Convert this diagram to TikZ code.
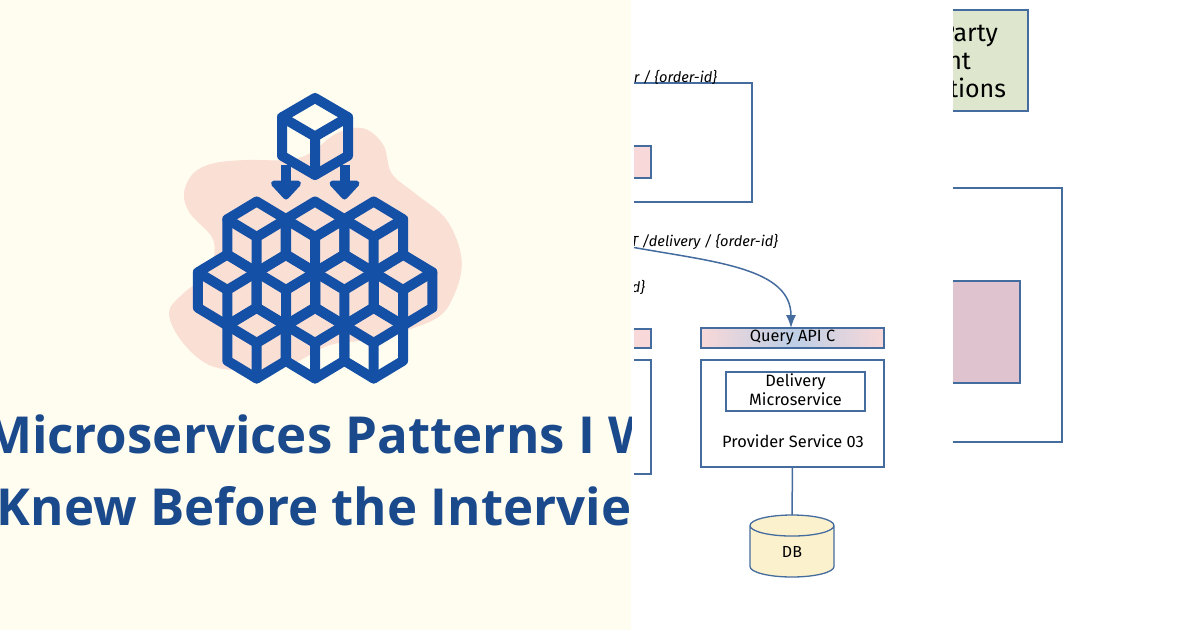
\documentclass[tikz,border=0pt]{standalone}
\usepackage{fontspec}
\setmainfont{Fira Sans}
\newfontfamily\titlefont[Scale=1]{Open Sans}
\usetikzlibrary{arrows.meta,shapes.geometric}
\definecolor{cream}{HTML}{FFFDF0}
\definecolor{blobc}{HTML}{FADFD5}
\definecolor{iconblue}{HTML}{1450A6}
\definecolor{titleblue}{HTML}{1B4A8C}
\definecolor{linec}{HTML}{456C9F}
\definecolor{pinkc}{HTML}{F8D8D8}
\definecolor{midc}{HTML}{BECFE6}
\definecolor{greenc}{HTML}{DEE7CE}
\definecolor{rosec}{HTML}{DFC3CF}
\definecolor{dbc}{HTML}{FBF1CD}
\tikzset{
  cubeline/.style={draw=iconblue,line width=10pt,line join=round,line cap=round},
  titletext/.style={anchor=base west,inner sep=0,outer sep=0,text=titleblue,font=\titlefont\fontsize{51}{60}\selectfont\bfseries},
  boxline/.style={draw=linec,line width=1.3pt,inner sep=0,outer sep=0,align=center,font=\fontsize{16.3}{19}\selectfont},
  plaintext/.style={inner sep=0,outer sep=0,align=center,font=\fontsize{16.4}{19.3}\selectfont},
  pathtext/.style={inner sep=0,outer sep=0,anchor=base east,font=\fontsize{14.6}{17}\selectfont\itshape},
  connector/.style={draw=linec,line width=1.5pt},
  bigtext/.style={inner sep=0,outer sep=0,anchor=base east,font=\fontsize{25}{28}\selectfont},
}
\newcommand{\icube}[4]{% cx cy halfwidth radius
  \draw[cubeline] (#1,#2-#4) -- (#1+#3,#2-#4/2) -- (#1+#3,#2+#4/2) -- (#1,#2+#4) -- (#1-#3,#2+#4/2) -- (#1-#3,#2-#4/2) -- cycle;
  \draw[cubeline] (#1-#3,#2-#4/2) -- (#1,#2) -- (#1+#3,#2-#4/2) (#1,#2) -- (#1,#2+#4);
}
\begin{document}
\begin{tikzpicture}[x=1pt,y=-1pt]
\useasboundingbox (0,0) rectangle (1200,630);
\fill[white] (0,0) rectangle (1200,630);
\fill[cream] (0,0) rectangle (631,630);
% blob
\begin{scope}[xshift=170pt,yshift=-80pt,x=.33333pt,y=-.33333pt]
\fill[blobc] plot[smooth cycle,tension=.6] coordinates {
 (580,145) (640,195) (665,280) (735,340) (830,420) (875,540) (850,650) (790,720)
 (620,775) (480,795) (370,850) (270,870) (130,860) (40,790) (-3,700) (40,640)
 (105,590) (132,530) (125,470) (60,400) (42,340) (70,280) (130,250) (230,240)
 (350,240) (420,220) (500,160)};
\end{scope}
% icon
\icube{256.7}{237}{29.4}{35.5}
\icube{315}{237}{29.4}{35.5}
\icube{373.7}{237}{29.4}{35.5}
\icube{227.3}{290}{29.4}{35.5}
\icube{286}{290}{29.4}{35.5}
\icube{344.4}{290}{29.4}{35.5}
\icube{403}{290}{29.4}{35.5}
\icube{256.7}{343}{29.4}{35.5}
\icube{315}{343}{29.4}{35.5}
\icube{373.7}{343}{29.4}{35.5}
\icube{315}{136.5}{33}{38.5}
\foreach \ax in {286,344.5}{
  \draw[iconblue,line width=10pt] (\ax,165) -- (\ax,190);
  \filldraw[iconblue,line width=6pt,line join=round] (\ax-12,183.5) -- (\ax+12,183.5) -- (\ax,196.5) -- cycle;
}
% title
\begin{scope}
\clip (0,0) rectangle (631,630);
\node[titletext] (title1) at (-16,453) {Microservices Patterns I W};
\node[titletext] (title2) at (-3,525) {Knew Before the Intervie};
\end{scope}
% middle of the diagram
\begin{scope}
\clip (634,0) rectangle (953,630);
\node[boxline,minimum width=192pt,minimum height=119pt] (topbox) at (656,142.5) {};
\node[boxline,fill=pinkc,minimum width=40pt,minimum height=32pt] (pinkbox) at (631,162) {};
\node[pathtext] (label1) at (717,82) {r / \{order-id\}};
\node[pathtext] (label2) at (778,246) {T /delivery / \{order-id\}};
\node[pathtext] (label3) at (645,292) {d\}};
\node[boxline,fill=pinkc,minimum width=60pt,minimum height=19pt] (queryb) at (621,338.5) {};
\node[boxline,minimum width=60pt,minimum height=114pt] (provb) at (621,417) {};
\node[boxline,left color=pinkc,right color=pinkc,middle color=midc,minimum width=183pt,minimum height=20pt] (queryc) at (792.5,338) {Query API C};
\node[boxline,minimum width=183pt,minimum height=107pt] (provc) at (792.5,413.5) {};
\node[boxline,minimum width=139pt,minimum height=39pt] (delivery) at (795.5,391.5) {};
\node[plaintext] (deliverytext) at (795.5,390) {Delivery\\Microservice};
\node[plaintext] (provtext) at (793,441) {Provider Service 03};
\node[cylinder,shape border rotate=90,aspect=1.05,draw=linec,line width=1.3pt,cylinder uses custom fill,cylinder body fill=dbc,cylinder end fill=dbc,minimum width=84pt,minimum height=62pt,inner sep=0,outer sep=0,anchor=top,font=\fontsize{16}{18}\selectfont] (db) at (792,515) {DB};
\draw[connector] (provc.south) -- (db.top);
\coordinate (curvestart) at (634,247.5);
\draw[connector,-{Latex[length=13pt,width=10pt]}] (curvestart) .. controls (715,262) and (791,268) .. ([xshift=-1.5pt]queryc.north);
\end{scope}
% right part of the diagram
\begin{scope}
\clip (953,0) rectangle (1200,630);
\node[boxline,fill=greenc,minimum width=135pt,minimum height=101pt,anchor=north east] (party) at (1028,10) {};
\node[bigtext] (t1) at (998,41) {Party};
\node[bigtext] (t2) at (971,69) {nt};
\node[bigtext] (t3) at (1006,97) {tions};
\node[boxline,minimum width=209pt,minimum height=254pt,anchor=north east] (bigbox) at (1062,188) {};
\node[boxline,fill=rosec,minimum width=167pt,minimum height=102pt,anchor=north east] (rosebox) at (1020,281) {};
\end{scope}
\end{tikzpicture}
\end{document}
